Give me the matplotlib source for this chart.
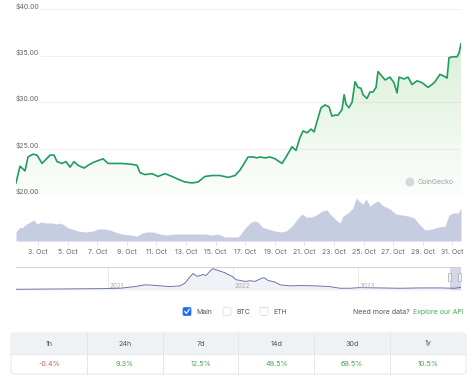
import numpy as np
import matplotlib
matplotlib.use("Agg")
import matplotlib.pyplot as plt
import matplotlib.transforms as mtransforms
from matplotlib.patches import FancyBboxPatch, Rectangle, Circle
from matplotlib.colors import to_rgb

plt.rcParams['font.family'] = ['Inter', 'DejaVu Sans']

# ----------------------------
# Data
# ----------------------------
# price, day of October (fractional)
price_days = [1.51, 1.78, 2.12, 2.32, 2.66, 2.93, 3.27, 3.81, 4.08, 4.28,
              4.62, 4.89, 5.16, 5.43, 5.70, 6.11, 6.38, 6.72, 7.05, 7.39,
              7.73, 8.20, 8.68, 9.35, 9.69, 9.89, 10.23, 10.70, 11.11, 11.58,
              12.05, 12.46, 12.93, 13.41, 13.81, 14.28, 14.76, 15.30, 15.84, 16.31,
              16.65, 16.85, 17.19, 17.53, 17.80, 18.00, 18.34, 18.68, 19.01, 19.49,
              19.76, 20.16, 20.43, 20.70, 20.91, 21.18, 21.45, 21.65, 21.92, 22.12,
              22.39, 22.66, 22.86, 23.07, 23.27, 23.54, 23.68, 23.81, 24.01, 24.22,
              24.42, 24.62, 24.82, 24.96, 25.23, 25.43, 25.64, 25.84, 25.97, 26.18,
              26.45, 26.78, 27.05, 27.26, 27.39, 27.73, 28.00, 28.27, 28.61, 28.95,
              29.35, 29.62, 29.82, 30.16, 30.43, 30.64, 30.77, 31.04, 31.31, 31.45,
              31.58]
prices = [21.3, 23.1, 22.6, 24.1, 24.4, 24.3, 23.4, 24.3, 24.3, 23.6,
          23.4, 23.6, 23.0, 23.6, 23.2, 22.9, 23.2, 23.5, 23.7, 23.9,
          23.4, 23.4, 23.4, 23.3, 23.2, 22.4, 22.2, 22.3, 22.0, 22.3,
          22.0, 21.7, 21.4, 21.3, 21.4, 22.0, 22.1, 22.1, 21.9, 22.1,
          22.7, 23.2, 24.1, 24.1, 24.0, 24.1, 24.0, 24.1, 23.9, 23.4,
          24.1, 25.2, 24.8, 26.2, 26.9, 26.7, 27.1, 26.8, 28.3, 29.4,
          29.7, 29.5, 28.5, 28.6, 28.6, 29.2, 30.8, 29.8, 29.4, 30.0,
          32.2, 31.6, 31.5, 30.8, 30.4, 31.1, 31.1, 31.6, 33.3, 32.9,
          32.4, 32.7, 32.1, 31.0, 32.7, 32.5, 32.7, 31.9, 32.3, 32.1,
          31.6, 31.9, 32.2, 33.0, 32.8, 32.6, 34.8, 34.9, 34.9, 35.3,
          36.3]

# volume (relative units), day of October
vol_days = [1.51, 1.78, 1.92, 2.12, 2.46, 2.73, 2.93, 3.20, 3.54, 3.81,
            4.01, 4.28, 4.49, 4.76, 5.03, 5.30, 5.70, 6.18, 6.72, 7.05,
            7.53, 7.86, 8.20, 8.68, 9.22, 9.69, 10.03, 10.36, 10.77, 11.24,
            11.72, 12.26, 12.93, 13.61, 14.28, 14.76, 15.16, 15.64, 16.11, 16.51,
            16.65, 16.99, 17.32, 17.59, 17.86, 18.14, 18.54, 19.01, 19.35, 19.76,
            20.16, 20.57, 20.84, 21.11, 21.51, 21.92, 22.19, 22.53, 22.73, 23.14,
            23.41, 23.61, 23.95, 24.28, 24.49, 24.76, 24.96, 25.16, 25.43, 25.70,
            25.97, 26.24, 26.51, 26.78, 27.19, 27.59, 28.00, 28.41, 28.81, 29.15,
            29.62, 30.03, 30.50, 30.77, 31.04, 31.38, 31.58]
volumes = [9, 14, 13, 16, 19, 21, 17, 19, 18, 18,
           18, 17, 18, 16, 13, 12, 10, 9, 10, 12,
           12, 11, 9, 7, 6, 5, 8, 9, 9, 7,
           6, 7, 7, 7, 7, 6, 7, 4, 4, 4,
           6, 13, 18, 20, 19, 14, 12, 10, 9, 10,
           15, 23, 27, 24, 24, 27, 30, 31, 27, 21,
           18, 25, 28, 33, 43, 39, 37, 42, 35, 38,
           40, 36, 34, 32, 27, 26, 25, 23, 16, 11,
           12, 14, 15, 26, 28, 28, 33]

# navigator (long history), decimal years
nav_years = [2020.264, 2020.616, 2020.936, 2021.096, 2021.216, 2021.296, 2021.352,
             2021.416, 2021.496, 2021.576, 2021.616, 2021.656, 2021.680, 2021.712,
             2021.736, 2021.760, 2021.784, 2021.816, 2021.840, 2021.872, 2021.896,
             2021.936, 2021.960, 2021.992, 2022.024, 2022.056, 2022.096, 2022.136,
             2022.176, 2022.216, 2022.248, 2022.280, 2022.336, 2022.376, 2022.456,
             2022.536, 2022.656, 2022.776, 2022.856, 2022.936, 2023.016, 2023.176,
             2023.336, 2023.496, 2023.656, 2023.776, 2023.824]
nav_prices = [9, 13, 17, 22, 43, 65, 61, 52, 43, 52, 87, 165, 208, 173,
              182, 195, 182, 238, 269, 251, 238, 217, 195, 173, 130, 121, 108, 117,
              108, 139, 156, 121, 100, 65, 52, 56, 52, 43, 22, 22, 30, 26,
              22, 26, 26, 22, 36]
nav_year_ticks = [2021, 2022, 2023]

y_ticks = [20, 25, 30, 35, 40]
x_ticks = list(range(3, 32, 2))

periods = ['1h', '24h', '7d', '14d', '30d', '1y']
changes = [-0.4, 9.3, 12.5, 49.5, 69.5, 10.5]

W, H = 474, 379
fig = plt.figure(figsize=(W / 100, H / 100), dpi=100)


def px_axes(x0, y0, x1, y1):
    return fig.add_axes([x0 / W, 1 - y1 / H, (x1 - x0) / W, (y1 - y0) / H])


day_min, day_max = 1.51, 31.58
grey_txt = '#666666'

# ----------------------------
# Price chart
# ----------------------------
ax = px_axes(16, 5, 461, 195)
p_min, p_max = 20, 40.47
green = '#1f9d5f'
poly = ax.fill_between(price_days, prices, p_min, facecolor='none', edgecolor='none')
grad = np.zeros((256, 1, 4))
grad[..., :3] = to_rgb('#6abf5e')
grad[:, 0, 3] = np.linspace(0.02, 0.30, 256)
im = ax.imshow(grad, extent=[day_min, day_max, p_min, p_max], origin='lower',
               aspect='auto', zorder=1)
im.set_clip_path(poly.get_paths()[0], ax.transData)
ax.plot(price_days, prices, color=green, lw=1.2, zorder=3)
grid_start = 3 + (40 - 38) / 14.8
ax.hlines(y_ticks, grid_start, day_max, color='#eeeeee', lw=0.6, zorder=0)
lab_tr = mtransforms.blended_transform_factory(ax.transAxes, ax.transData) + \
    mtransforms.ScaledTranslation(0, 3.5 / 100, fig.dpi_scale_trans)
for p in y_ticks:
    ax.text(0, p, f"${p:.2f}", transform=lab_tr, ha='left', va='center',
            fontsize=5, color=grey_txt)
ax.set_xlim(day_min, day_max)
ax.set_ylim(p_min, p_max)
ax.axis('off')

# ----------------------------
# Volume
# ----------------------------
axv = px_axes(16, 195, 461, 241)
axv.fill_between(vol_days, volumes, 0, color='#c6cde0', lw=0)
axv.set_xlim(day_min, day_max)
axv.set_ylim(0, 46)
for s in axv.spines.values():
    s.set_visible(False)
axv.set_yticks([])
axv.set_xticks(x_ticks)
axv.set_xticklabels([f"{d}. Oct" for d in x_ticks], fontsize=5, color=grey_txt)
axv.tick_params(axis='x', length=3, width=0.5, color='#ccd6eb', pad=3)

# ----------------------------
# Navigator
# ----------------------------
axn = px_axes(16, 267, 461, 290)
axn.fill_between(nav_years, nav_prices, 0, color='#f1f2f8', lw=0)
axn.plot(nav_years, nav_prices, color='#6a75a6', lw=0.7)
axn.set_xlim(2020.264, 2023.824)
axn.set_ylim(0, 290)
for yr in nav_year_ticks:
    axn.axvline(yr, color='#e6e6e6', lw=0.6, zorder=0)
    axn.text(yr + 0.015, 12, str(yr), fontsize=4.5, color='#aaaaaa',
             ha='left', va='bottom')
axn.axvspan(2023.74, 2023.824, color='#c8cee2', alpha=0.8, lw=0)
for s in axn.spines.values():
    s.set_visible(False)
axn.axhline(290, color='#cccccc', lw=0.6)
axn.set_xticks([])
axn.set_yticks([])

# ----------------------------
# Overlay (legend, watermark, table)
# ----------------------------
ov = fig.add_axes([0, 0, 1, 1])
ov.set_xlim(0, W)
ov.set_ylim(H, 0)
ov.axis('off')

# navigator handles
for hx in (449.5, 460):
    ov.add_patch(Rectangle((hx - 1.5, 273), 3, 8, fc='#f2f2f2', ec='#999999', lw=0.4))

# watermark
ov.add_patch(Circle((410, 182), 4.5, fc='#d8d8d8', ec='none'))
ov.text(418, 182.5, "CoinGecko", fontsize=5, color='#a0a0a0', va='center', ha='left')

# legend checkboxes
boxes = [(183, 'Main', True), (223, 'BTC', False), (260, 'ETH', False)]
for bx, name, on in boxes:
    ov.add_patch(FancyBboxPatch((bx, 307.5), 8, 8, boxstyle='round,pad=0,rounding_size=1.5',
                                fc='#1d6cf2' if on else 'white',
                                ec='#1d6cf2' if on else '#d4d8de', lw=0.5))
    if on:
        ov.plot([bx + 1.8, bx + 3.4, bx + 6.3], [311.6, 313.4, 309.4], color='white', lw=0.9)
    ov.text(bx + 13, 312, name, fontsize=5, color='#555555', va='center', ha='left')
ov.text(412, 312, "Need more data? ", fontsize=5, color='#555555', va='center', ha='right')
ov.text(413.5, 312, "Explore our API", fontsize=5, color='#4caf50', va='center', ha='left')

# table
tx0, tx1, ty0, ty1, tmid = 11, 466, 333, 374, 354
outer = FancyBboxPatch((tx0, ty0), tx1 - tx0, ty1 - ty0,
                       boxstyle='round,pad=0,rounding_size=3', fc='white',
                       ec='#e1e4e8', lw=0.6, zorder=1)
ov.add_patch(outer)
head = Rectangle((tx0, ty0), tx1 - tx0, tmid - ty0, fc='#eff1f4', ec='none', zorder=2)
ov.add_patch(head)
head.set_clip_path(outer)
ov.plot([tx0, tx1], [tmid, tmid], color='#e1e4e8', lw=0.6, zorder=3)
cw = (tx1 - tx0) / len(periods)
for i, (per, ch) in enumerate(zip(periods, changes)):
    cx = tx0 + cw * (i + 0.5)
    if i > 0:
        ov.plot([tx0 + cw * i] * 2, [ty0, ty1], color='#e1e4e8', lw=0.6, zorder=3)
    ov.text(cx, (ty0 + tmid) / 2, per, fontsize=5.2, color='#555555',
            ha='center', va='center', zorder=4)
    ov.text(cx, (tmid + ty1) / 2, f"{ch:.1f}%", fontsize=5.2,
            color='#e0535c' if ch < 0 else '#4aa255', ha='center', va='center', zorder=4)

fig.savefig("out.png", dpi=100)
